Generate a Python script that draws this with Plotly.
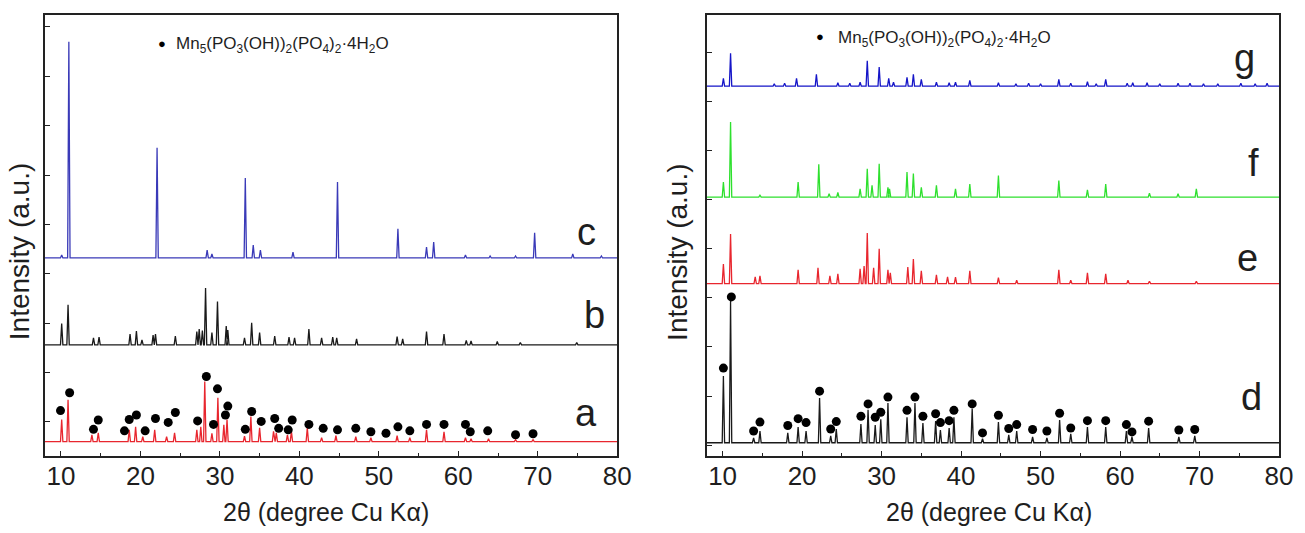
import plotly.graph_objects as go

# ---------------- data (2theta in degrees, intensities in arbitrary tick units) ----------------
# Left panel
c_pos = [10.1, 11.0, 22.1, 28.4, 29.0, 33.2, 34.2, 35.1, 39.2, 44.8, 52.4, 56.0, 56.9, 60.9, 64.0, 67.2, 69.6, 74.4, 78.0]
c_int = [0.06, 4.38, 2.23, 0.16, 0.08, 1.62, 0.26, 0.16, 0.12, 1.54, 0.59, 0.22, 0.32, 0.06, 0.04, 0.04, 0.51, 0.08, 0.04]

b_pos = [10.1, 10.9, 14.1, 14.8, 18.7, 19.5, 20.2, 21.6, 21.9, 24.4, 27.1, 27.4, 27.8, 28.2, 29.0, 29.7,
         30.8, 31.0, 33.1, 34.0, 35.0, 36.9, 38.7, 39.4, 41.2, 42.8, 44.2, 44.7, 47.2, 52.3, 53.0, 56.0,
         58.2, 61.0, 61.6, 64.9, 67.8, 74.9]
b_int = [0.43, 0.81, 0.14, 0.16, 0.22, 0.28, 0.10, 0.20, 0.22, 0.18, 0.27, 0.32, 0.29, 1.15, 0.25, 0.88,
         0.38, 0.30, 0.14, 0.45, 0.25, 0.18, 0.16, 0.14, 0.32, 0.14, 0.16, 0.14, 0.12, 0.17, 0.12, 0.27,
         0.22, 0.09, 0.08, 0.07, 0.05, 0.05]

a_pos = [10.1, 10.9, 13.9, 14.7, 18.6, 19.4, 20.3, 21.8, 23.3, 24.3, 27.1, 27.6, 28.1, 29.0, 29.75, 30.5,
         30.9, 33.1, 33.9, 35.0, 36.75, 37.1, 38.5, 39.0, 41.0, 42.8, 44.6, 47.1, 49.0, 52.3, 53.9, 56.0,
         58.2, 60.9, 61.6, 63.8, 67.2, 69.4]
a_int = [0.45, 0.85, 0.14, 0.18, 0.24, 0.30, 0.10, 0.24, 0.10, 0.18, 0.24, 0.30, 1.22, 0.17, 0.89, 0.34,
         0.45, 0.11, 0.51, 0.28, 0.21, 0.18, 0.14, 0.21, 0.28, 0.08, 0.12, 0.10, 0.08, 0.12, 0.08, 0.24,
         0.20, 0.08, 0.06, 0.06, 0.04, 0.04]

a_dot_pos = [9.95, 11.1, 14.1, 14.7, 18.0, 18.6, 19.5, 20.6, 21.9, 23.5, 24.4, 27.2, 28.3, 29.2, 29.7, 30.7,
             31.0, 33.2, 34.0, 35.2, 36.9, 37.4, 38.6, 39.1, 41.2, 43.0, 44.8, 47.1, 49.0, 50.9, 52.4, 53.9,
             56.0, 58.2, 60.9, 61.5, 63.7, 67.2, 69.4]
a_dot_val = [0.23, 0.59, -0.15, 0.04, -0.18, 0.05, 0.14, -0.18, 0.07, -0.01, 0.19, 0.02, 0.92, -0.05, 0.67, 0.14,
             0.32, -0.15, 0.21, 0.01, 0.07, -0.13, -0.16, 0.04, -0.05, -0.13, -0.16, -0.13, -0.20, -0.23, -0.10, -0.18,
             -0.05, -0.05, -0.05, -0.20, -0.18, -0.26, -0.24]

# Right panel
g_pos = [10.1, 11.0, 16.5, 17.8, 19.3, 21.8, 24.5, 26.0, 27.3, 28.2, 29.7, 30.9, 31.5, 33.2, 34.0, 35.0,
         36.9, 38.5, 39.3, 41.1, 44.7, 46.9, 48.5, 50.0, 52.3, 53.8, 55.9, 57.0, 58.2, 60.9, 61.6, 63.4,
         65.0, 67.3, 68.8, 70.5, 72.3, 75.2, 77.0, 78.5]
g_int = [0.16, 0.67, 0.05, 0.06, 0.16, 0.24, 0.07, 0.06, 0.08, 0.52, 0.39, 0.16, 0.08, 0.18, 0.24, 0.14,
         0.08, 0.07, 0.08, 0.12, 0.07, 0.05, 0.06, 0.05, 0.14, 0.06, 0.09, 0.05, 0.14, 0.06, 0.07, 0.07,
         0.05, 0.06, 0.06, 0.05, 0.05, 0.06, 0.05, 0.06]

f_pos = [10.1, 11.0, 14.7, 19.5, 22.1, 23.4, 24.5, 27.3, 28.2, 28.8, 29.7, 30.8, 31.0, 33.2, 34.0, 35.0,
         36.9, 39.3, 41.1, 44.7, 52.3, 55.9, 58.2, 63.7, 67.3, 69.6]
f_int = [0.31, 1.53, 0.04, 0.31, 0.67, 0.07, 0.10, 0.17, 0.58, 0.24, 0.68, 0.20, 0.17, 0.51, 0.48, 0.20,
         0.24, 0.17, 0.27, 0.44, 0.34, 0.15, 0.27, 0.08, 0.07, 0.17]

e_pos = [10.1, 11.0, 14.1, 14.7, 19.5, 22.0, 23.5, 24.5, 27.3, 27.8, 28.2, 29.0, 29.7, 30.8, 31.1, 33.3,
         34.0, 35.0, 36.9, 38.3, 39.3, 41.1, 44.7, 47.0, 52.3, 53.8, 55.9, 58.2, 61.0, 63.7, 69.6]
e_int = [0.40, 1.01, 0.14, 0.16, 0.28, 0.32, 0.16, 0.20, 0.30, 0.36, 1.03, 0.32, 0.71, 0.28, 0.22, 0.34,
         0.50, 0.26, 0.18, 0.14, 0.13, 0.26, 0.12, 0.07, 0.28, 0.07, 0.22, 0.20, 0.07, 0.05, 0.05]

d_pos = [10.1, 11.0, 13.9, 14.7, 18.2, 19.5, 20.5, 22.2, 23.6, 24.3, 27.4, 28.3, 29.2, 29.9, 30.8, 33.2,
         34.2, 35.2, 36.8, 37.4, 38.5, 39.1, 41.4, 42.7, 44.7, 46.0, 47.0, 49.0, 50.8, 52.4, 53.8, 55.9,
         58.2, 60.8, 61.5, 63.6, 67.4, 69.4]
d_int = [1.36, 2.89, 0.10, 0.24, 0.20, 0.32, 0.24, 0.91, 0.14, 0.28, 0.38, 0.67, 0.36, 0.48, 0.81, 0.52,
         0.81, 0.40, 0.44, 0.26, 0.30, 0.52, 0.69, 0.08, 0.42, 0.16, 0.24, 0.12, 0.10, 0.46, 0.18, 0.32,
         0.32, 0.24, 0.12, 0.30, 0.12, 0.14]

d_dot_pos = [10.1, 11.1, 13.9, 14.7, 18.2, 19.5, 20.5, 22.2, 23.6, 24.3, 27.4, 28.3, 29.2, 29.9, 30.8, 33.2,
             34.2, 35.2, 36.8, 37.4, 38.5, 39.1, 41.4, 42.7, 44.7, 46.0, 47.0, 49.0, 50.8, 52.4, 53.8, 55.9,
             58.2, 60.8, 61.5, 63.6, 67.4, 69.4]
d_dot_val = [1.57, 3.02, 0.29, 0.47, 0.40, 0.54, 0.46, 1.10, 0.33, 0.48, 0.59, 0.84, 0.57, 0.67, 0.98, 0.71,
             0.98, 0.59, 0.64, 0.46, 0.50, 0.71, 0.84, 0.25, 0.61, 0.34, 0.42, 0.32, 0.29, 0.65, 0.35, 0.50,
             0.50, 0.42, 0.27, 0.49, 0.31, 0.32]

# vertical offsets (baselines) of stacked patterns
base_left = {"a": -0.40, "b": 1.56, "c": 3.32}
base_right = {"d": 0.05, "e": 3.29, "f": 5.05, "g": 7.31}

x_ticks = [10, 20, 30, 40, 50, 60, 70, 80]
legend_text = "Mn<sub>5</sub>(PO<sub>3</sub>(OH))<sub>2</sub>(PO<sub>4</sub>)<sub>2</sub>·4H<sub>2</sub>O"
x_title = "2θ (degree Cu Kα)"
y_title = "Intensity (a.u.)"

FONT = "Arial, Liberation Sans, sans-serif"
TXT = "#1e1e1e"


def spike_curve(pos, hgt, base, hw=0.15, x0=8.0, x1=80.0):
    xs, ys = [x0], [base]
    for p, h in sorted(zip(pos, hgt)):
        xs += [p - hw, p, p + hw]
        ys += [base, base + h, base]
    xs.append(x1)
    ys.append(base)
    return xs, ys


fig = go.Figure()

def add_pattern(pos, hgt, base, color, xa, ya):
    xs, ys = spike_curve(pos, hgt, base)
    fig.add_trace(go.Scatter(x=xs, y=ys, mode="lines", line=dict(color=color, width=1.3),
                             xaxis=xa, yaxis=ya, showlegend=False, hoverinfo="skip"))

add_pattern(c_pos, c_int, base_left["c"], "#3a3ab8", "x", "y")
add_pattern(b_pos, b_int, base_left["b"], "#1a1a1a", "x", "y")
add_pattern(a_pos, a_int, base_left["a"], "#e8262e", "x", "y")
fig.add_trace(go.Scatter(x=a_dot_pos, y=a_dot_val, mode="markers",
                         marker=dict(color="#000000", size=9), xaxis="x", yaxis="y",
                         showlegend=False, hoverinfo="skip"))

add_pattern(g_pos, g_int, base_right["g"], "#1515c8", "x2", "y2")
add_pattern(f_pos, f_int, base_right["f"], "#2ee02e", "x2", "y2")
add_pattern(e_pos, e_int, base_right["e"], "#e8262e", "x2", "y2")
add_pattern(d_pos, d_int, base_right["d"], "#1a1a1a", "x2", "y2")
fig.add_trace(go.Scatter(x=d_dot_pos, y=d_dot_val, mode="markers",
                         marker=dict(color="#000000", size=9), xaxis="x2", yaxis="y2",
                         showlegend=False, hoverinfo="skip"))

# ---------------- layout ----------------
W, H = 1305, 533
ML, MR, MT, MB = 45, 18, 15, 77
PW = W - ML - MR
PH = H - MT - MB

def px(xp):
    return (xp - ML) / PW

def py(yp):
    return (H - MB - yp) / PH

xcommon = dict(range=[8, 80], tickvals=x_ticks, ticks="inside", ticklen=5, tickwidth=1.2,
               tickcolor="#222", showline=True, linecolor="#222", linewidth=1.6, mirror=True,
               showgrid=False, zeroline=False,
               tickfont=dict(family=FONT, size=26, color=TXT),
               minor=dict(dtick=5, tick0=5, ticks="inside", ticklen=3, tickwidth=1, tickcolor="#222"),
               ticklabelstandoff=-4)
ycommon = dict(dtick=1, tick0=0, ticks="inside", ticklen=5, tickwidth=1.2, tickcolor="#222",
               showticklabels=False, showline=True, linecolor="#222", linewidth=1.6, mirror=True,
               showgrid=False, zeroline=False)

fig.update_layout(
    width=W, height=H,
    margin=dict(l=ML, r=MR, t=MT, b=MB),
    paper_bgcolor="white", plot_bgcolor="white",
    xaxis=dict(domain=[0, px(621)], anchor="y", **xcommon),
    yaxis=dict(domain=[0, 1], anchor="x", range=[-0.69, 8.24], **ycommon),
    xaxis2=dict(domain=[px(711), 1], anchor="y2", **xcommon),
    yaxis2=dict(domain=[0, 1], anchor="x2", range=[-0.22, 8.76], **ycommon),
    showlegend=False,
)

ann = []
# curve labels
for txt, xp, yp in [("c", 590, 232), ("b", 598, 315), ("a", 590, 413),
                    ("g", 1252, 58), ("f", 1261, 163), ("e", 1255, 258), ("d", 1259, 397)]:
    ann.append(dict(text=txt, x=px(xp), y=py(yp), xref="paper", yref="paper",
                    xanchor="center", yanchor="middle", showarrow=False,
                    font=dict(family=FONT, size=38, color=TXT)))
# legend-like notes
for dx, tx, yp in [(163, 175, 43), (825, 841, 37)]:
    ann.append(dict(text="●", x=px(dx), y=py(yp), xref="paper", yref="paper",
                    xanchor="center", yanchor="middle", showarrow=False,
                    font=dict(family=FONT, size=13, color="#000")))
    ann.append(dict(text=legend_text, x=px(tx), y=py(yp + 2), xref="paper", yref="paper",
                    xanchor="left", yanchor="middle", showarrow=False,
                    font=dict(family=FONT, size=17, color=TXT)))
# axis titles
for xp in [328, 995]:
    ann.append(dict(text=x_title, x=px(xp), y=py(512), xref="paper", yref="paper",
                    xanchor="center", yanchor="middle", showarrow=False,
                    font=dict(family=FONT, size=25, color=TXT)))
for xp in [20, 682]:
    ann.append(dict(text=y_title, x=px(xp), y=py(252), xref="paper", yref="paper",
                    xanchor="center", yanchor="middle", showarrow=False, textangle=-90,
                    font=dict(family=FONT, size=28, color=TXT)))
fig.update_layout(annotations=ann)

fig.write_html("out.html")
